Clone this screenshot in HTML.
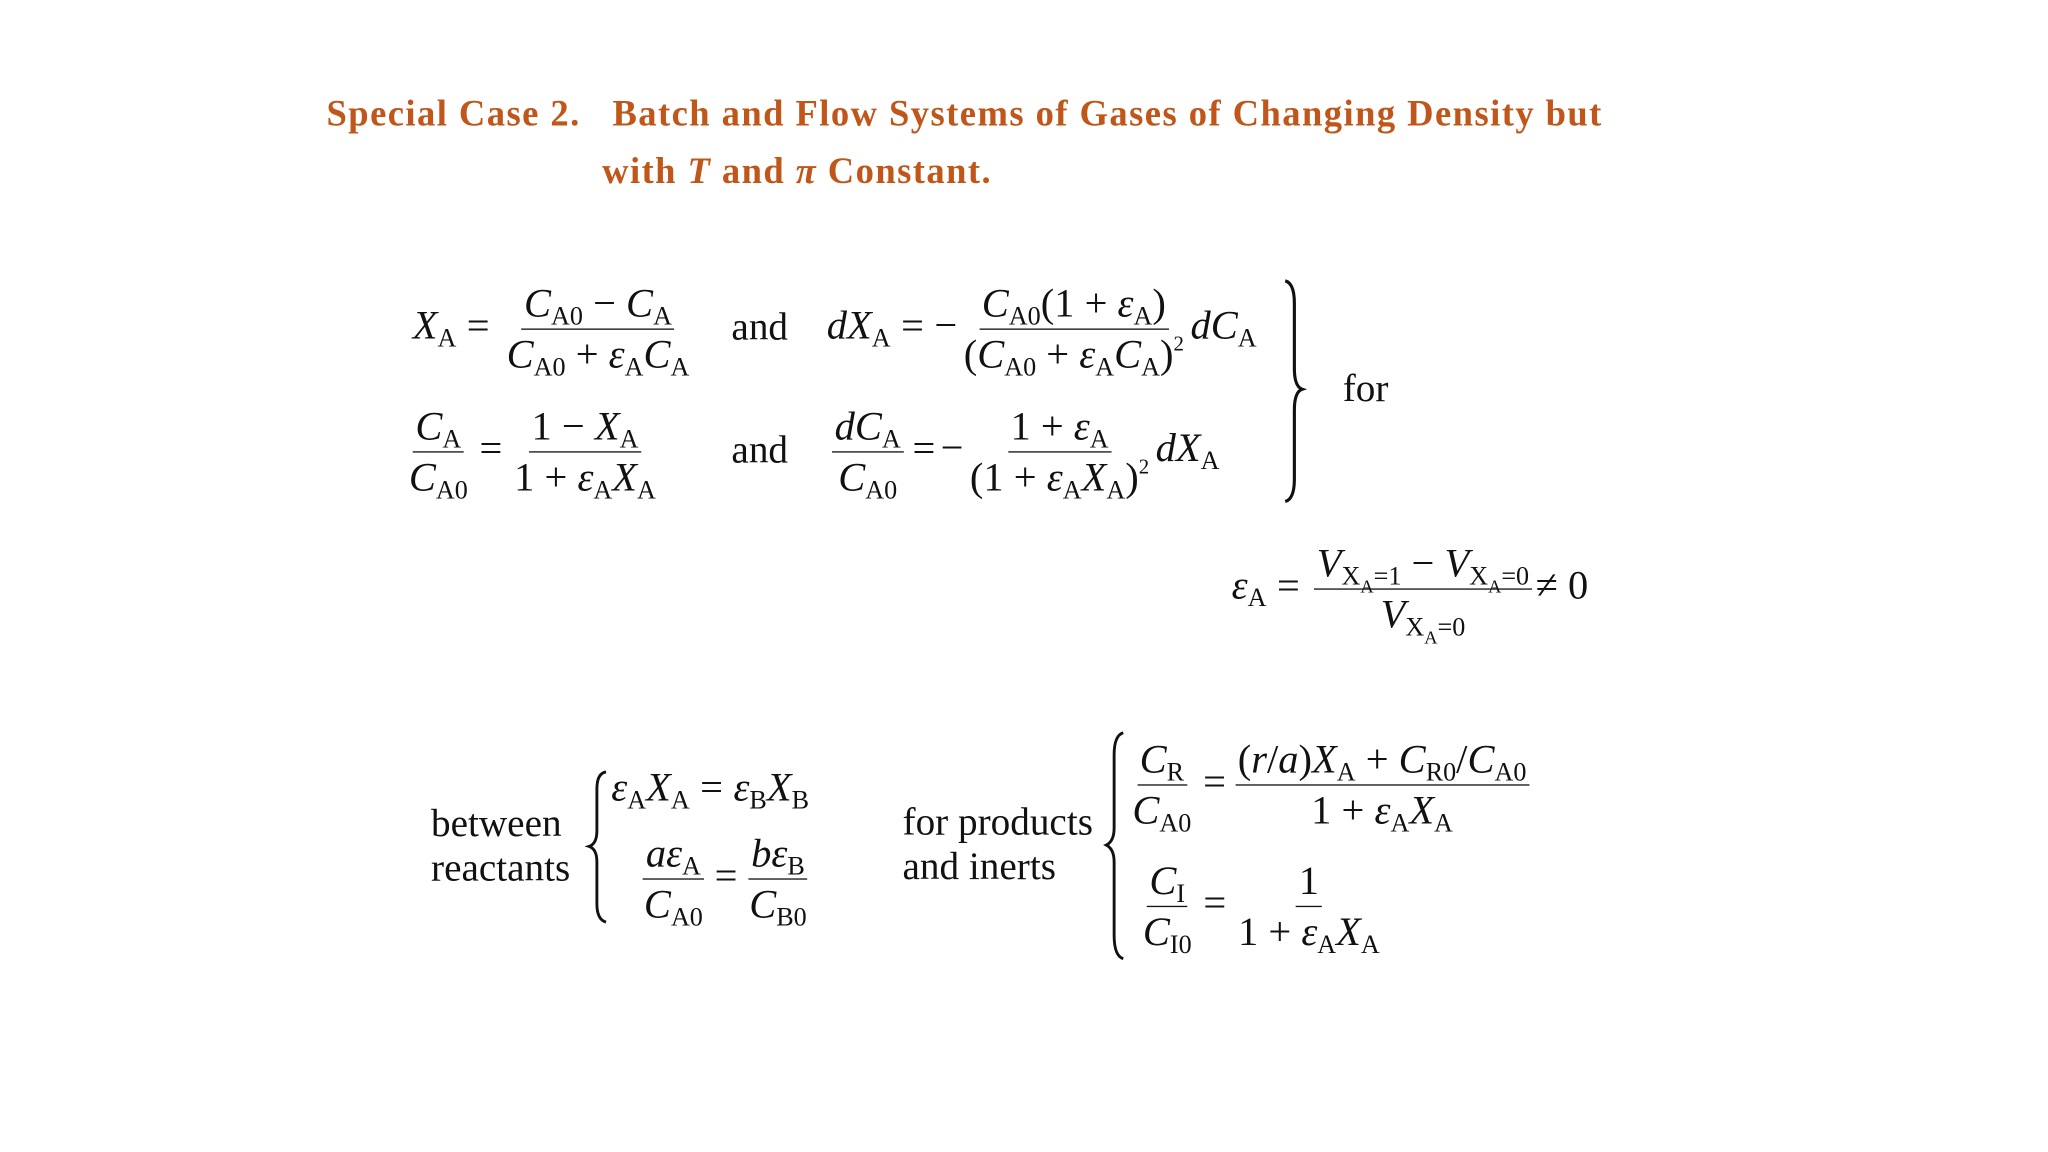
<!DOCTYPE html>
<html><head><meta charset="utf-8"><style>
html,body{margin:0;padding:0;background:#fff;width:2048px;height:1152px;overflow:hidden}
#f{position:absolute;left:0;top:0;width:1568px;height:882px;transform:scale(1.30612);transform-origin:0 0;font-family:"Liberation Serif",serif;color:#111}
.t{position:absolute;color:#c0561a;font-weight:bold;font-size:28px;letter-spacing:1.1px;white-space:nowrap}
.m{position:absolute;font-size:31px;white-space:nowrap;transform:translateY(-50%);line-height:40px}
.fr{display:inline-flex;flex-direction:column;align-items:center;margin:0 3px;vertical-align:middle}
.fr>span{padding:0 2px;line-height:38px;display:block}
.fr>span:first-child{border-bottom:1.6px solid #111}
i{font-style:italic}
sub{font-size:20px;vertical-align:-6px;line-height:0}
sup{font-size:16px;vertical-align:13px;line-height:0}
.s{position:absolute;font-size:30px;white-space:nowrap}
.op{margin:0 8px}
</style></head><body><div id="f">
<div class="t" style="left:250px;top:72px">Special Case 2.&nbsp;&nbsp; Batch and Flow Systems of Gases of Changing Density but</div>
<div class="t" style="left:461px;top:116px">with <i>T</i> and <i>π</i> Constant.</div>

<div class="m" style="left:316px;top:252px"><i>X</i><sub>A</sub><span class="op">=</span><span class="fr"><span><i>C</i><sub>A0</sub> − <i>C</i><sub>A</sub></span><span><i>C</i><sub>A0</sub> + <i>ε</i><sub>A</sub><i>C</i><sub>A</sub></span></span></div>
<div class="s" style="left:560px;top:234px">and</div>
<div class="m" style="left:633px;top:252px"><i>dX</i><sub>A</sub><span class="op">=</span>−<span class="fr"><span><i>C</i><sub>A0</sub>(1 + <i>ε</i><sub>A</sub>)</span><span>(<i>C</i><sub>A0</sub> + <i>ε</i><sub>A</sub><i>C</i><sub>A</sub>)<sup>2</sup></span></span><i>dC</i><sub>A</sub></div>

<div class="m" style="left:308px;top:346px"><span class="fr"><span><i>C</i><sub>A</sub></span><span><i>C</i><sub>A0</sub></span></span><span class="op" style="margin:0 4px">=</span><span class="fr"><span>1 − <i>X</i><sub>A</sub></span><span>1 + <i>ε</i><sub>A</sub><i>X</i><sub>A</sub></span></span></div>
<div class="s" style="left:560px;top:328px">and</div>
<div class="m" style="left:634px;top:346px"><span class="fr"><span><i>dC</i><sub>A</sub></span><span><i>C</i><sub>A0</sub></span></span><span class="op" style="margin:0 4px">=</span>−<span class="fr"><span>1 + <i>ε</i><sub>A</sub></span><span>(1 + <i>ε</i><sub>A</sub><i>X</i><sub>A</sub>)<sup>2</sup></span></span><i>dX</i><sub>A</sub></div>

<svg style="position:absolute;left:980px;top:212px" width="22" height="175"><path d="M4 3 Q11 5 11 20 L11 70 Q11 84 17 86 Q11 88 11 102 L11 155 Q11 170 4 172" fill="none" stroke="#111" stroke-width="2.4"/></svg>
<div class="s" style="left:1028px;top:281px">for</div>

<div class="m" style="left:943px;top:451px"><i>ε</i><sub>A</sub><span class="op">=</span><span class="fr"><span><i>V</i><sub>X<sub style="font-size:14px">A</sub>=1</sub> − <i>V</i><sub>X<sub style="font-size:14px">A</sub>=0</sub></span><span><i>V</i><sub>X<sub style="font-size:14px">A</sub>=0</sub></span></span>≠ 0</div>

<div class="s" style="left:330px;top:614px;line-height:34px">between<br>reactants</div>
<svg style="position:absolute;left:446px;top:588px" width="22" height="122"><path d="M18 3 Q11 4 11 16 L11 48 Q11 58 5 60 Q11 62 11 72 L11 104 Q11 116 18 118" fill="none" stroke="#111" stroke-width="2.2"/></svg>
<div class="m" style="left:468px;top:603px"><i>ε</i><sub>A</sub><i>X</i><sub>A</sub><span class="op">=</span><i>ε</i><sub>B</sub><i>X</i><sub>B</sub></div>
<div class="m" style="left:488px;top:673px"><span class="fr"><span><i>aε</i><sub>A</sub></span><span><i>C</i><sub>A0</sub></span></span><span class="op" style="margin:0 4px">=</span><span class="fr"><span><i>bε</i><sub>B</sub></span><span><i>C</i><sub>B0</sub></span></span></div>

<div class="s" style="left:691px;top:613px;line-height:34px">for products<br>and inerts</div>
<svg style="position:absolute;left:842px;top:558px" width="22" height="180"><path d="M18 3 Q11 5 11 20 L11 76 Q11 86 5 89 Q11 92 11 102 L11 158 Q11 174 18 176" fill="none" stroke="#111" stroke-width="2.2"/></svg>
<div class="m" style="left:862px;top:601px"><span class="fr"><span><i>C</i><sub>R</sub></span><span><i>C</i><sub>A0</sub></span></span><span class="op" style="margin:0 4px">=</span><span class="fr"><span>(<i>r</i>/<i>a</i>)<i>X</i><sub>A</sub> + <i>C</i><sub>R0</sub>/<i>C</i><sub>A0</sub></span><span>1 + <i>ε</i><sub>A</sub><i>X</i><sub>A</sub></span></span></div>
<div class="m" style="left:870px;top:694px"><span class="fr"><span><i>C</i><sub>I</sub></span><span><i>C</i><sub>I0</sub></span></span><span class="op" style="margin:0 4px">=</span><span class="fr"><span>1</span><span>1 + <i>ε</i><sub>A</sub><i>X</i><sub>A</sub></span></span></div>
</div></body></html>
